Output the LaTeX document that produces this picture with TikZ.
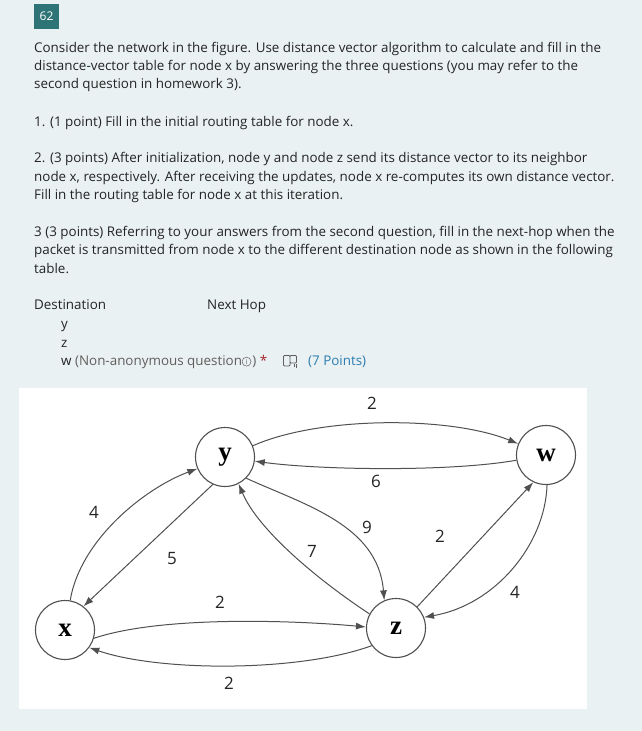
\documentclass[tikz,border=0pt]{standalone}
\usepackage{fontspec}
\setmainfont{Open Sans}
\newfontfamily\routerfont{Liberation Serif}
\usetikzlibrary{arrows.meta}
\definecolor{pageBg}{HTML}{EAF1F3}
\definecolor{badgeTeal}{HTML}{2E7477}
\definecolor{bodyText}{HTML}{242424}
\definecolor{mutedText}{HTML}{605E5C}
\definecolor{pointsBlue}{HTML}{2B7CB0}
\definecolor{starRed}{HTML}{A4262C}
\definecolor{edgeGray}{HTML}{505050}
\tikzset{
  % question text, one node per printed line
  dv/text/.style={anchor=base west, inner sep=0pt,
    font=\fontsize{13.4}{16}\selectfont, text=bodyText},
  % routers of the network
  dv/router/.style={circle, draw=edgeGray, fill=white, line width=1.1pt,
    minimum size=59pt, inner sep=0pt,
    font=\routerfont\bfseries\fontsize{27}{27}\selectfont},
  % link costs
  dv/cost/.style={font=\fontsize{17}{17}\selectfont, text=bodyText, inner sep=1pt},
  % directed links
  dv/link/.style={-{Latex[length=10pt,width=7pt]}, draw=edgeGray, line width=1pt},
}
\begin{document}
\begin{tikzpicture}[x=1pt,y=-1pt]
  \fill[pageBg] (0,0) rectangle (642,731);
  \useasboundingbox (0,0) rectangle (642,731);

  % question number
  \node[fill=badgeTeal, minimum width=25pt, minimum height=25pt, inner sep=0pt,
        text=white, font=\fontsize{12}{12}\selectfont] (badge) at (46.5,16.5) {62};

  \foreach \yb/\txt [count=\n] in {
      52/{Consider the network in the figure. Use distance vector algorithm to calculate and fill in the},
      70/{distance-vector table for node x by answering the three questions (you may refer to the},
      88/{second question in homework 3).},
      126/{1. (1 point) Fill in the initial routing table for node x.},
      162/{2. (3 points) After initialization, node y and node z send its distance vector to its neighbor},
      181/{node x, respectively. After receiving the updates, node x re-computes its own distance vector.},
      199/{Fill in the routing table for node x at this iteration.},
      236/{3 (3 points) Referring to your answers from the second question, fill in the next-hop when the},
      254/{packet is transmitted from node x to the different destination node as shown in the following},
      273/{table.},
      309/{Destination}}
    \node[dv/text] (line\n) at (34,\yb) {\txt};
  \node[dv/text] (nexthop) at (207,309) {Next Hop};
  \node[dv/text] (desty) at (61,328) {y};
  \node[dv/text] (destz) at (61,347) {z};
  \node[dv/text] (destw) at (61,365) {w {\color{mutedText}(Non-anonymous question}};
  \node[circle, draw=mutedText, line width=0.5pt, inner sep=0pt, minimum size=9pt,
        text=mutedText, font=\fontsize{7}{7}\selectfont, anchor=south west]
        (info) at ([xshift=1pt]destw.base east) {i};
  \node[dv/text, text=mutedText, xshift=1pt] (wclose) at (info.east |- destw.base)
        {) {\color{starRed}*}};
  % reader icon
  \draw[mutedText, line width=0.8pt, rounded corners=1pt]
    (283.5,355.5) rectangle (290,366) (290,355.5) rectangle (296.5,363);
  \draw[mutedText, line width=0.7pt] (294,364) -- (294,367) (296,363.5) -- (296,367.5);
  \node[dv/text, text=pointsBlue] (points) at (308,365) {(7 Points)};

  % figure
  \fill[white] (19,388) rectangle (587,709);

  \node[dv/router] (x) at (65,630) {x};
  \node[dv/router] (y) at (225,457) {y};
  \node[dv/router] (w) at (546,455) {w};
  \node[dv/router] (z) at (396,628) {z};

  \draw[dv/link] (y.22) .. controls (320,416) and (450,416) .. (w.158);
  \draw[dv/link] (w.190) .. controls (450,472) and (320,470) .. (y.-8);
  \draw[dv/link] (x.80) .. controls (80,540) and (145,488) .. (y.203);
  \draw[dv/link] (y.246) -- (x.52);
  \draw[dv/link] (x.-16) .. controls (160,616) and (290,620) .. (z.178);
  \draw[dv/link] (z.216) .. controls (300,672) and (160,672) .. (x.-36);
  \draw[dv/link] (y.-45) .. controls (305,505) and (378,525) .. (z.113);
  \draw[dv/link] (z.152) .. controls (318,580) and (258,530) .. (y.-63);
  \draw[dv/link] (z.45) -- (w.245);
  \draw[dv/link] (w.272) .. controls (545,545) and (495,605) .. (z.21);

  \foreach \nm/\px/\py/\c in {yw/372/403/2, wy/376/481/6, xy/94/512/4, yx/172/559/5,
      zy/312/551/7, yz/367/527/9, zw/440/536/2, wz/515/592/4, xz/220/602/2, zx/229/683/2}
    \node[dv/cost] (cost-\nm) at (\px,\py) {\c};
\end{tikzpicture}
\end{document}
